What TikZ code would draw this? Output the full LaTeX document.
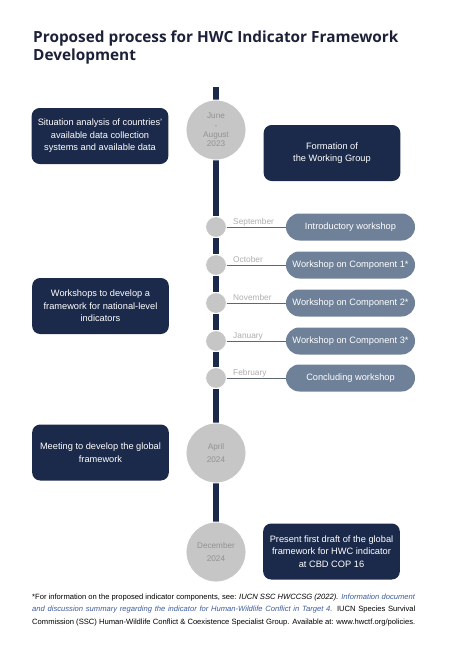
\documentclass[tikz,border=0pt]{standalone}
\usepackage{fontspec}
\setmainfont{Liberation Sans}
\newfontfamily\titlefont{Open Sans}
\usetikzlibrary{backgrounds}
\definecolor{navy}{HTML}{1B2A4A}
\definecolor{slate}{HTML}{6E8198}
\definecolor{dot}{HTML}{C6C6C6}
\definecolor{dottext}{HTML}{929292}
\definecolor{monthtext}{HTML}{ADADAD}
\definecolor{linkgray}{HTML}{5F6672}
\definecolor{titleblue}{HTML}{1C2038}
\definecolor{refblue}{HTML}{3D5C9C}
\begin{document}
\begin{tikzpicture}[x=0.03cm,y=-0.03cm,
    phase/.style={rectangle,rounded corners=0.24cm,fill=navy,text=white,
      minimum width=4.1cm,minimum height=1.68cm,align=center,inner sep=0pt,
      font=\fontsize{7.9}{10.6}\selectfont},
    workshop/.style={rectangle,rounded corners=0.4cm,fill=slate,text=white,
      minimum width=3.87cm,minimum height=0.81cm,inner sep=0pt,
      font=\fontsize{7.9}{9.5}\selectfont},
    bigdot/.style={circle,fill=dot,draw=white,line width=0.8pt,minimum size=1.8cm,
      inner sep=0pt,align=center,text=dottext},
    smalldot/.style={circle,fill=dot,draw=white,line width=0.6pt,minimum size=0.62cm,inner sep=0pt},
    month/.style={anchor=base west,inner sep=0pt,text=monthtext,font=\fontsize{7.1}{8}\selectfont},
    link/.style={draw=linkgray,line width=0.6pt}
]
\useasboundingbox (0,0) rectangle (455,645);

\node[anchor=north west,inner sep=0pt,align=left,text=titleblue,
      font=\titlefont\bfseries\fontsize{13.1}{14.6}\selectfont] (title) at (33,31)
  {Proposed process for HWC Indicator Framework\\Development};

% timeline dates
\coordinate (top) at (216,87);
\node[bigdot,font=\fontsize{7}{8}\selectfont] (d1) at (216,130) {June\\-\\August\\2023};
\node[smalldot] (s1) at (216,227) {};
\node[smalldot] (s2) at (216,265) {};
\node[smalldot] (s3) at (216,303) {};
\node[smalldot] (s4) at (216,341) {};
\node[smalldot] (s5) at (216,378) {};
\node[bigdot,font=\fontsize{7}{10.5}\selectfont] (d2) at (216,453) {April\\2024};
\node[bigdot,font=\fontsize{7}{10.8}\selectfont] (d3) at (216,552) {December\\2024};

\begin{scope}[on background layer]
\draw[navy,line width=5pt] (top) -- (d1.north);
\draw[navy,line width=5pt] (d1.south) -- (s1) -- (s2) -- (s3) -- (s4) -- (s5) -- (d2.north);
\draw[navy,line width=5pt] (d2.south) -- (d3.north);
\end{scope}

% phases
\node[phase] (situation) at (100,136) {Situation analysis of countries'\\available data collection\\systems and available data};
\node[phase] (formation) at (332,153) {Formation of\\the Working Group};
\node[phase] (national)  at (100.5,306) {Workshops to develop a\\framework for national-level\\indicators};
\node[phase] (meeting)   at (100.5,452.5) {Meeting to develop the global\\framework};
\node[phase] (draft)     at (331.5,551.5) {Present first draft of the global\\framework for HWC indicator\\at CBD COP 16};

% workshops
\node[workshop] (w1) at (350.5,227) {Introductory workshop};
\node[workshop] (w2) at (350.5,265) {Workshop on Component 1*};
\node[workshop] (w3) at (350.5,303) {Workshop on Component 2*};
\node[workshop] (w4) at (350.5,341) {Workshop on Component 3*};
\node[workshop] (w5) at (350.5,378) {Concluding workshop};

\draw[link] (s1) -- (w1);
\draw[link] (s2) -- (w2);
\draw[link] (s3) -- (w3);
\draw[link] (s4) -- (w4);
\draw[link] (s5) -- (w5);

\node[month] (m1) at (233,224.5) {September};
\node[month] (m2) at (233,262.5) {October};
\node[month] (m3) at (233,300.5) {November};
\node[month] (m4) at (233,338.5) {January};
\node[month] (m5) at (233,375.5) {February};

% footnote
\node[anchor=north west,inner sep=0pt,text width=11.49cm,align=justify,
      font=\fontsize{6.5}{10.6}\selectfont] (note) at (32,593.5)
  {*For information on the proposed indicator components, see: \textit{IUCN SSC HWCCSG (2022).} \textcolor{refblue}{\textit{Information document}}\linebreak
   \textcolor{refblue}{\textit{and discussion summary regarding the indicator for Human-Wildlife Conflict in Target 4.}} IUCN Species Survival\linebreak
   Commission (SSC) Human-Wildlife Conflict \& Coexistence Specialist Group. Available at: www.hwctf.org/policies.};
\end{tikzpicture}
\end{document}
